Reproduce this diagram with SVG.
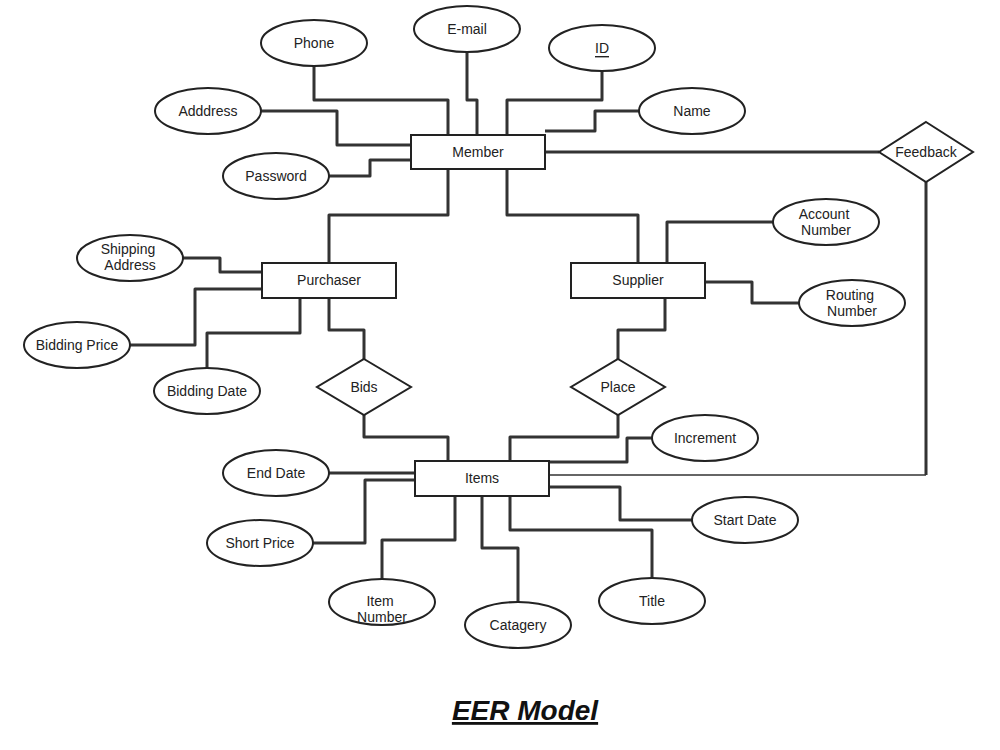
<svg xmlns="http://www.w3.org/2000/svg" width="1000" height="750" viewBox="0 0 1000 750">
<style>
.n{fill:#fff;stroke:#222;stroke-width:2}
.t{font-family:"Liberation Sans",Arial,sans-serif;font-size:14px;fill:#222;text-anchor:middle;dominant-baseline:central}
.c path{fill:none;stroke:#333;stroke-width:3;stroke-linejoin:round}
</style>
<rect width="1000" height="750" fill="#fff"/>
<g class="c" id="connectors">
<path d="M314,66V100H448V135"/>
<path d="M467,52V100H477V135"/>
<path d="M602,71V100H507V135"/>
<path d="M639,111H595V131H545"/>
<path d="M261,111H337V145H411"/>
<path d="M329,176H370V160H411"/>
<path d="M545,152H879"/>
<path d="M926,182V475" />
<path d="M926,475H549" style="stroke-width:1.5"/>
<path d="M448,169V215H329V263"/>
<path d="M507,169V215H638V263"/>
<path d="M183,258H220V272H262"/>
<path d="M130,345H195V289H262"/>
<path d="M207,368V333H300V298"/>
<path d="M329,298V330H364V359"/>
<path d="M364,415V437H448V461"/>
<path d="M665,298V330H618V359"/>
<path d="M618,415V437H510V461"/>
<path d="M773,222H667V263"/>
<path d="M705,282H752V303H799"/>
<path d="M652,438H627V462H549"/>
<path d="M329,473H415"/>
<path d="M692,520H620V487H549"/>
<path d="M313,543H365V480H415"/>
<path d="M382,579V540H455V496"/>
<path d="M518,602V548H482V496"/>
<path d="M652,578V530H510V496"/>
</g>
<g id="member"><rect class="n" x="411" y="135" width="134" height="34"/><text class="t" x="478" y="152">Member</text></g>
<g id="phone"><ellipse class="n" cx="314" cy="43" rx="53" ry="23"/><text class="t" x="314" y="43">Phone</text></g>
<g id="email"><ellipse class="n" cx="467" cy="29" rx="53" ry="23"/><text class="t" x="467" y="29">E-mail</text></g>
<g id="id"><ellipse class="n" cx="602" cy="48" rx="53" ry="23"/><text class="t" x="602" y="48" text-decoration="underline">ID</text></g>
<g id="name"><ellipse class="n" cx="692" cy="111" rx="53" ry="23"/><text class="t" x="692" y="111">Name</text></g>
<g id="address"><ellipse class="n" cx="208" cy="111" rx="53" ry="23"/><text class="t" x="208" y="111">Adddress</text></g>
<g id="password"><ellipse class="n" cx="276" cy="176" rx="53" ry="23"/><text class="t" x="276" y="176">Password</text></g>
<g id="feedback"><polygon class="n" points="926,122 973,152 926,182 879,152"/><text class="t" x="926" y="152">Feedback</text></g>
<g id="purchaser"><rect class="n" x="262" y="263" width="134" height="35"/><text class="t" x="329" y="280">Purchaser</text></g>
<g id="supplier"><rect class="n" x="571" y="263" width="134" height="35"/><text class="t" x="638" y="280">Supplier</text></g>
<g id="shipping"><ellipse class="n" cx="130" cy="258" rx="53" ry="23"/><text class="t" x="128" y="249">Shipping</text><text class="t" x="130" y="265">Address</text></g>
<g id="biddingprice"><ellipse class="n" cx="77" cy="345" rx="53" ry="23"/><text class="t" x="77" y="345">Bidding Price</text></g>
<g id="biddingdate"><ellipse class="n" cx="207" cy="391" rx="53" ry="23"/><text class="t" x="207" y="391">Bidding Date</text></g>
<g id="account"><ellipse class="n" cx="826" cy="222" rx="53" ry="23"/><text class="t" x="824" y="214">Account</text><text class="t" x="826" y="230">Number</text></g>
<g id="routing"><ellipse class="n" cx="852" cy="303" rx="53" ry="23"/><text class="t" x="850" y="295">Routing</text><text class="t" x="852" y="311">Number</text></g>
<g id="bids"><polygon class="n" points="364,359 411,387 364,415 317,387"/><text class="t" x="364" y="387">Bids</text></g>
<g id="place"><polygon class="n" points="618,359 665,387 618,415 571,387"/><text class="t" x="618" y="387">Place</text></g>
<g id="items"><rect class="n" x="415" y="461" width="134" height="35"/><text class="t" x="482" y="478">Items</text></g>
<g id="increment"><ellipse class="n" cx="705" cy="438" rx="53" ry="23"/><text class="t" x="705" y="438">Increment</text></g>
<g id="enddate"><ellipse class="n" cx="276" cy="473" rx="53" ry="23"/><text class="t" x="276" y="473">End Date</text></g>
<g id="startdate"><ellipse class="n" cx="745" cy="520" rx="53" ry="23"/><text class="t" x="745" y="520">Start Date</text></g>
<g id="shortprice"><ellipse class="n" cx="260" cy="543" rx="53" ry="23"/><text class="t" x="260" y="543">Short Price</text></g>
<g id="itemnumber"><ellipse class="n" cx="382" cy="602" rx="53" ry="23"/><text class="t" x="380" y="601">Item</text><text class="t" x="382" y="617">Number</text></g>
<g id="catagery"><ellipse class="n" cx="518" cy="625" rx="53" ry="23"/><text class="t" x="518" y="625">Catagery</text></g>
<g id="title"><ellipse class="n" cx="652" cy="601" rx="53" ry="23"/><text class="t" x="652" y="601">Title</text></g>
<text x="525" y="720" style="font-family:'Liberation Sans',Arial,sans-serif;font-size:28px;font-weight:bold;font-style:italic;text-anchor:middle;fill:#111" text-decoration="underline">EER Model</text>
</svg>
